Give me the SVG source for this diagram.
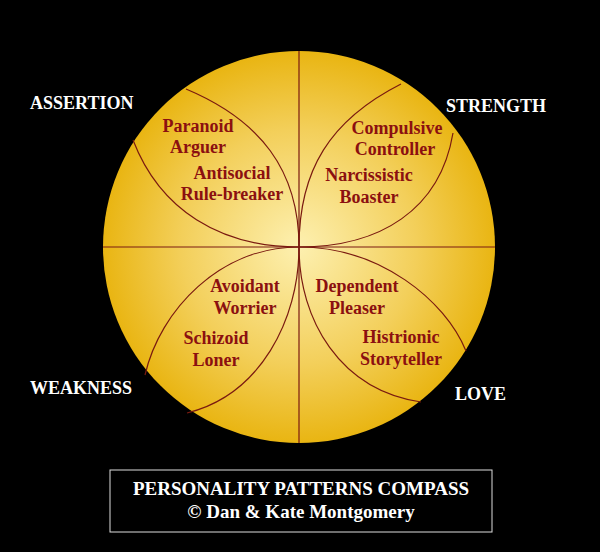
<svg xmlns="http://www.w3.org/2000/svg" width="600" height="552" viewBox="0 0 600 552">
<style>
.p{font-family:"Liberation Serif",serif;font-weight:bold;font-size:18px;fill:#8b1010;text-anchor:middle}
.w{font-family:"Liberation Serif",serif;font-weight:bold;font-size:18px;fill:#fff}
.c{fill:none;stroke:#7a1a10;stroke-width:1.2}
</style>
<defs><radialGradient id="g" cx="299" cy="247" r="196" gradientUnits="userSpaceOnUse"><stop offset="0" stop-color="#fdf0b0"/><stop offset="0.6" stop-color="#f3cf5a"/><stop offset="1" stop-color="#e9b512"/></radialGradient></defs>
<rect width="600" height="552" fill="#000"/>
<circle cx="299" cy="247" r="196" fill="url(#g)"/>
<g id="connectors">
<line x1="103" y1="247" x2="495" y2="247" class="c" stroke="#5a3a10"/>
<line x1="299" y1="51" x2="299" y2="443" class="c"/>
<path class="c" d="M186,89 C260,120 299,170 299,247"/>
<path class="c" d="M133,140 C160,210 220,247 299,247"/>
<path class="c" d="M401,84 C330,120 299,170 299,247"/>
<path class="c" d="M453,133 C440,210 380,247 299,247"/>
<path class="c" d="M299,247 C380,247 445,300 466,351"/>
<path class="c" d="M299,247 C299,320 340,390 421,402"/>
<path class="c" d="M299,247 C220,247 160,310 145,375"/>
<path class="c" d="M299,247 C299,320 260,395 187,413"/>
</g>
<g id="paranoid"><text class="p" x="198" y="132">Paranoid</text><text class="p" x="198" y="153">Arguer</text></g>
<g id="antisocial"><text class="p" x="232" y="179">Antisocial</text><text class="p" x="232" y="200">Rule-breaker</text></g>
<g id="compulsive"><text class="p" x="397" y="134">Compulsive</text><text class="p" x="395" y="155">Controller</text></g>
<g id="narcissistic"><text class="p" x="369" y="181">Narcissistic</text><text class="p" x="369" y="203">Boaster</text></g>
<g id="avoidant"><text class="p" x="245" y="292">Avoidant</text><text class="p" x="245" y="314">Worrier</text></g>
<g id="schizoid"><text class="p" x="216" y="344">Schizoid</text><text class="p" x="216" y="366">Loner</text></g>
<g id="dependent"><text class="p" x="357" y="292">Dependent</text><text class="p" x="357" y="314">Pleaser</text></g>
<g id="histrionic"><text class="p" x="401" y="343">Histrionic</text><text class="p" x="401" y="365">Storyteller</text></g>
<g id="assertion"><text class="w" x="30" y="109">ASSERTION</text></g>
<g id="strength"><text class="w" x="446" y="112">STRENGTH</text></g>
<g id="weakness"><text class="w" x="30" y="394">WEAKNESS</text></g>
<g id="love"><text class="w" x="455" y="400">LOVE</text></g>
<g id="title">
<rect x="110" y="470" width="382" height="62" fill="none" stroke="#ddd" stroke-width="1"/>
<text class="w" x="301" y="495" text-anchor="middle" style="font-size:19px">PERSONALITY PATTERNS COMPASS</text>
<text class="w" x="301" y="518" text-anchor="middle" style="font-size:19px">© Dan &amp; Kate Montgomery</text>
</g>
</svg>
